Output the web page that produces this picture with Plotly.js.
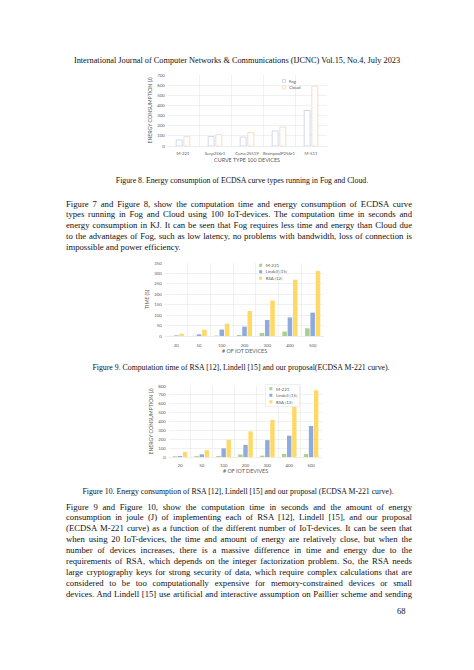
<!DOCTYPE html>
<html>
<head>
<meta charset="utf-8">
<script src="https://cdn.plot.ly/plotly-3.0.1.min.js"></script>
<style>
  html, body { margin:0; padding:0; background:#fff; }
  #page { position:relative; width:474px; height:670px; background:#fff; overflow:hidden; font-family:"Liberation Serif","Times New Roman",serif; color:#111; }
  .t { position:absolute; white-space:nowrap; }
  .c { text-align:center; }
  .ln { position:absolute; left:66px; white-space:nowrap; font-size:8.7px; line-height:11px; height:11px; }
  .chart { position:absolute; transform-origin:0 0; transform:scale(0.25); }
</style>
</head>
<body>
<div id="page">
  <div class="t c" style="left:0;width:474px;top:56px;font-size:8.3px;line-height:10px;">International Journal of Computer Networks &amp; Communications (IJCNC) Vol.15, No.4, July 2023</div>

  <div id="chart1" class="chart" style="left:140px;top:65px;"></div>
  <div class="t c" style="left:0;width:484px;top:176px;font-size:7.8px;line-height:10px;">Figure 8. Energy consumption of ECDSA curve types running in Fog and Cloud.</div>

  <div id="p1"></div>

  <div id="chart2" class="chart" style="left:140px;top:255px;"></div>
  <div class="t c" style="left:0;width:482px;top:363px;font-size:7.8px;line-height:10px;">Figure 9. Computation time of RSA [12], Lindell [15] and our proposal(ECDSA M-221 curve).</div>

  <div id="chart3" class="chart" style="left:140px;top:380px;"></div>
  <div class="t c" style="left:0;width:476px;top:487px;font-size:7.8px;line-height:10px;">Figure 10. Energy consumption of RSA [12], Lindell [15] and our proposal (ECDSA M-221 curve).</div>

  <div id="p2"></div>

  <div class="t" style="left:397px;top:606px;font-size:8.5px;line-height:10px;">68</div>
</div>
<script>
// ---------- data ----------
var curveTypes = ['M-221','Secp256r1','Curve25519','BrainpoolP256r1','M-511'];
var fogEnergy = [60, 93, 88, 148, 350];
var cloudEnergy = [92, 112, 133, 187, 590];

var devices = ['20','50','100','200','300','400','500'];
var timeM221 = [0.5, 1, 2, 5, 14, 21, 37];
var timeLindell = [3, 8, 31, 45, 77, 89, 112];
var timeRSA = [11, 30, 59, 120, 170, 270, 312];

var energyM221 = [8, 10, 12, 28, 15, 36, 33];
var energyLindell = [11, 30, 98, 137, 190, 240, 350];
var energyRSA = [58, 77, 194, 288, 418, 568, 752];

var curveTicks = [0,100,200,300,400,500,600,700];
var timeTicks = [0,50,100,150,200,250,300,350];
var energyTicks = [0,100,200,300,400,500,600,700,800];

// ---------- text ----------
var para1 = [
 "Figure 7 and Figure 8, show the computation time and energy consumption of ECDSA curve",
 "types running in Fog and Cloud using 100 IoT-devices. The computation time in seconds and",
 "energy consumption in KJ. It can be seen that Fog requires less time and energy than Cloud due",
 "to the advantages of Fog, such as low latency, no problems with bandwidth, loss of connection is",
 "impossible and power efficiency."
];
var para2 = [
 "Figure 9 and Figure 10, show the computation time in seconds and the amount of energy",
 "consumption in joule (J) of implementing each of RSA [12], Lindell [15], and our proposal",
 "(ECDSA M-221 curve) as a function of the different number of IoT-devices. It can be seen that",
 "when using 20 IoT-devices, the time and amount of energy are relatively close, but when the",
 "number of devices increases, there is a massive difference in time and energy due to the",
 "requirements of RSA, which depends on the integer factorization problem. So, the RSA needs",
 "large cryptography keys for strong security of data, which require complex calculations that are",
 "considered to be too computationally expensive for memory-constrained devices or small",
 "devices. And Lindell [15] use artificial and interactive assumption on Paillier scheme and sending"
];
function writePara(id, lines, top, lastJust) {
  var host = document.getElementById(id);
  var W = 346;
  lines.forEach(function(s, i){
    var d = document.createElement('div');
    d.className = 'ln';
    d.style.top = (top + i*10.9) + 'px';
    var sp = document.createElement('span');
    sp.textContent = s;
    d.appendChild(sp);
    host.appendChild(d);
    var justify = (i < lines.length-1) || lastJust;
    if (justify) {
      var w = sp.getBoundingClientRect().width;
      var n = (s.match(/ /g) || []).length;
      if (n > 0) sp.style.wordSpacing = ((W - w)/n) + 'px';
    }
  });
}
writePara('p1', para1, 198.5, false);
writePara('p2', para2, 501.5, true);

// ---------- charts (drawn 4x and scaled down by CSS) ----------
var S = 4;
var FAM = 'Lato,"Open Sans","Liberation Sans",sans-serif';
var GREY = '#595959';
var tickFont = {family:FAM, size:4.3*S, color:GREY};
var grid = '#e4e4e4';

function layoutFor(m, ticks, rng, xtitle, ytitle, legend) {
  return {
    width: m.w*S, height: m.h*S,
    margin: {l:m.l*S, r:m.r*S, t:m.t*S, b:m.b*S, pad:0},
    paper_bgcolor:'rgba(0,0,0,0)', plot_bgcolor:'rgba(0,0,0,0)',
    font: tickFont,
    barmode:'group',
    bargap: m.bargap, bargroupgap: m.bgg,
    showlegend:true,
    legend: legend,
    xaxis: {
      type:'category', tickson:'boundaries', showgrid:true, gridcolor:grid, gridwidth:0.5*S,
      showline:true, linecolor:'#d9d9d9', linewidth:0.5*S,
      ticks:'', tickangle:0, tickfont:tickFont, ticklabelstandoff:m.xls*S,
      title:{text:xtitle, font:{family:FAM, size:5.4*S, color:GREY}, standoff:m.xts*S}
    },
    yaxis: {
      range:rng, tickvals:ticks, showgrid:true, gridcolor:grid, gridwidth:0.5*S,
      zeroline:false, showline:false, ticks:'', tickfont:tickFont, ticklabelstandoff:m.yls*S,
      title:{text:ytitle, font:{family:FAM, size:5.2*S, color:GREY}, standoff:m.yts*S}
    }
  };
}
function legendAt(x, y, box) {
  var L = {x:x, y:y, xanchor:'left', yanchor:'top',
    bgcolor: box ? '#ffffff' : 'rgba(0,0,0,0)',
    font:{family:FAM, size:4.4*S, color:GREY},
    itemwidth:30, tracegroupgap:0};
  if (box) { L.bordercolor = '#e0e0e0'; L.borderwidth = 0.5*S; }
  return L;
}
var cfg = {staticPlot:true, displayModeBar:false};

// Chart 1
Plotly.newPlot('chart1', [
  {type:'bar', name:'Fog', x:curveTypes, y:fogEnergy,
   marker:{color:'#ffffff', line:{color:'#c6cfe0', width:0.8*S}}},
  {type:'bar', name:'Cloud', x:curveTypes, y:cloudEnergy,
   marker:{color:'#ffffff', line:{color:'#f2d7bb', width:0.8*S}}}
], layoutFor({w:200,h:105,l:27,r:13,t:10,b:24,bargap:0.52,bgg:0.22,xls:3,xts:3,yls:2,yts:4},
  curveTicks, [0,700], 'CURVE TYPE 100 DEVICES', 'ENERGY CONSUMPTION (J)',
  legendAt(0.7, 0.98, false)), cfg);

// Chart 2
Plotly.newPlot('chart2', [
  {type:'bar', name:'M-221', x:devices, y:timeM221, marker:{color:'#a9d18e'}},
  {type:'bar', name:'Lindell [15]', x:devices, y:timeLindell, marker:{color:'#8faadc'}},
  {type:'bar', name:'RSA [12]', x:devices, y:timeRSA, marker:{color:'#ffd966'}}
], layoutFor({w:200,h:105,l:25,r:16,t:8,b:24,bargap:0.3,bgg:0.14,xls:5,xts:2,yls:3,yts:4},
  timeTicks, [0,350], '# OF IOT DEVICES', 'TIME (S)',
  legendAt(0.57, 1.03, false)), cfg);

// Chart 3
Plotly.newPlot('chart3', [
  {type:'bar', name:'M-221', x:devices, y:energyM221, marker:{color:'#a9d18e'}},
  {type:'bar', name:'Lindell [15]', x:devices, y:energyLindell, marker:{color:'#8faadc'}},
  {type:'bar', name:'RSA [12]', x:devices, y:energyRSA, marker:{color:'#ffd966'}}
], layoutFor({w:200,h:100,l:29,r:18,t:6,b:23,bargap:0.3,bgg:0.14,xls:4,xts:2,yls:3,yts:4},
  energyTicks, [0,800], '# OF IOT DEVIVES', 'ENERGY CONSUMPTION (J)',
  legendAt(0.63, 1.03, true)), cfg);
</script>
</body>
</html>
